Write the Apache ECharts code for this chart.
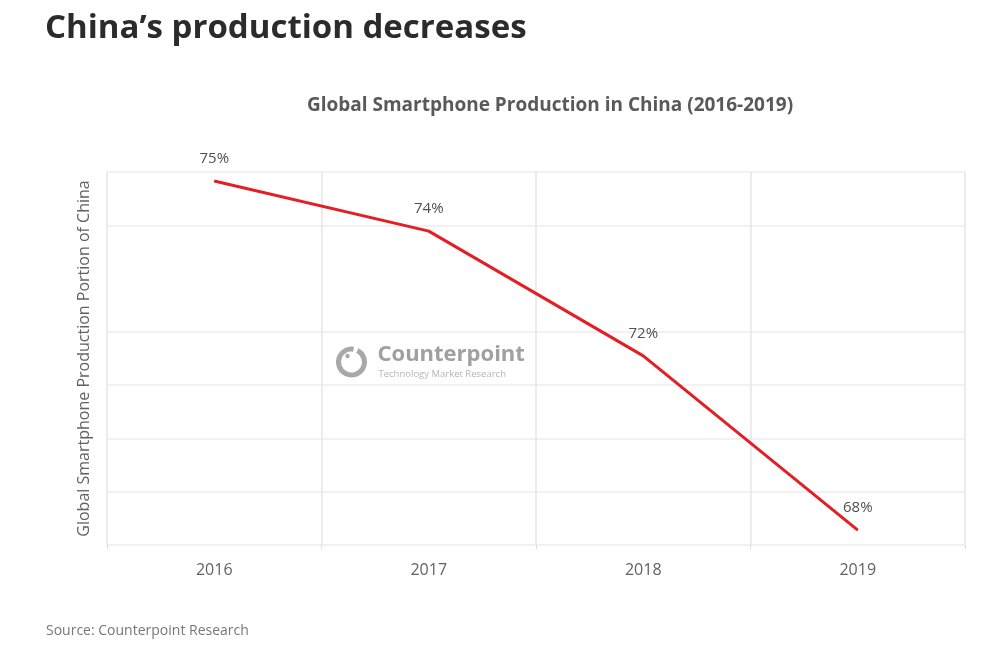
<!DOCTYPE html>
<html>
<head>
<meta charset="utf-8">
<script src="https://cdn.jsdelivr.net/npm/echarts@6/dist/echarts.min.js"></script>
<style>
  html, body { margin: 0; padding: 0; background: #fff; }
  #chart { width: 1000px; height: 646px; }
</style>
</head>
<body>
<div id="chart"></div>
<script>
// 中国占全球智能手机产量份额（%）
const years = ['2016', '2017', '2018', '2019']
const shareValues = [74.83, 73.89, 71.55, 68.28]
const yMin = 68
const yMax = 75
const yStep = 1

const FONT = '"Open Sans", "Noto Sans", sans-serif'
const chart = echarts.init(document.getElementById('chart'), null, { renderer: 'canvas' })

// 73% 那条横线在原图里没画出来
const gridColors = ['#ececec', '#ececec', '#ececec', '#ececec', '#ececec', 'rgba(0,0,0,0)', '#ececec', '#ececec']

chart.setOption({
  backgroundColor: '#fff',
  animation: false,
  title: [
    {
      text: 'China’s production decreases',
      left: 40, top: 7,
      textStyle: { fontFamily: FONT, fontSize: 33, fontWeight: 'bold', color: '#2b2b2b' }
    },
    {
      text: 'Global Smartphone Production in China (2016-2019)',
      left: 545, top: 91, textAlign: 'center',
      textStyle: { fontFamily: FONT, fontSize: 19, fontWeight: 'bold', color: '#595959' }
    },
    {
      text: 'Source: Counterpoint Research',
      left: 41, top: 619,
      textStyle: { fontFamily: FONT, fontSize: 14, fontWeight: 'normal', color: '#777' }
    }
  ],
  grid: { left: 107, right: 35, top: 172, bottom: 101 },
  xAxis: {
    type: 'category',
    data: years,
    boundaryGap: true,
    axisLine: { show: false },
    axisTick: { show: true, length: 4, lineStyle: { color: '#dcdcdc' } },
    axisLabel: { color: '#626262', fontFamily: FONT, fontSize: 16, margin: 17 },
    splitLine: { show: true, lineStyle: { color: '#e6e6e6', width: 1.5 } }
  },
  yAxis: {
    type: 'value',
    min: yMin, max: yMax, interval: yStep,
    name: 'Global Smartphone Production Portion of China',
    nameLocation: 'middle',
    nameGap: 15,
    nameRotate: 90,
    nameTextStyle: { color: '#626262', fontFamily: FONT, fontSize: 16 },
    axisLine: { show: false },
    axisTick: { show: false },
    axisLabel: { show: false },
    splitLine: { show: true, lineStyle: { color: gridColors, width: 1.5 } }
  },
  graphic: [
    {
      type: 'group', left: 336, top: 344, silent: true,
      children: [
        { type: 'arc', shape: { cx: 16, cy: 18, r: 13, startAngle: -Math.PI * 0.35, endAngle: Math.PI * 1.55 },
          style: { stroke: '#a8a8a8', lineWidth: 5, fill: null } },
        { type: 'circle', shape: { cx: 12, cy: 12, r: 2.2 }, style: { fill: '#a8a8a8' } },
        { type: 'text', x: 42, y: 0,
          style: { text: 'Counterpoint', fontFamily: FONT, fontSize: 22, fontWeight: 'bold', fill: '#a0a0a0' } },
        { type: 'text', x: 43, y: 25,
          style: { text: 'Technology Market Research', fontFamily: FONT, fontSize: 9.5, fill: '#b5b5b5' } }
      ]
    }
  ],
  series: [
    {
      type: 'line',
      data: shareValues,
      symbol: 'circle',
      symbolSize: 1,
      showSymbol: true,
      itemStyle: { color: '#e31e24' },
      lineStyle: { color: '#e31e24', width: 3 },
      label: {
        show: true,
        position: 'top',
        distance: 14,
        color: '#505050',
        fontFamily: FONT,
        fontSize: 15,
        formatter: p => Math.round(p.value) + '%'
      }
    }
  ]
})
</script>
</body>
</html>
